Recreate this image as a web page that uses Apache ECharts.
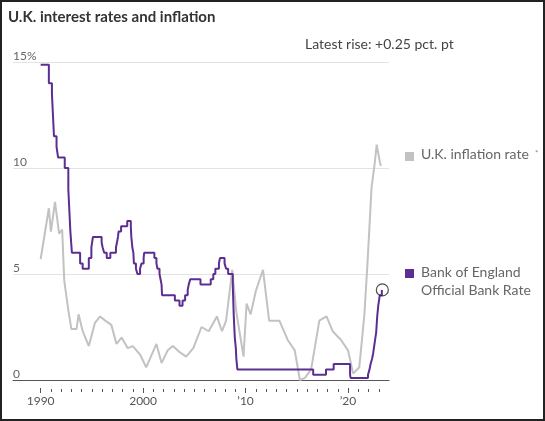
<!DOCTYPE html>
<html>
<head>
<meta charset="utf-8">
<script src="https://cdn.jsdelivr.net/npm/echarts@6/dist/echarts.min.js"></script>
<style>
  html, body { margin: 0; padding: 0; background: #fff; }
  #main { width: 541px; height: 417px; border: 2px solid #222; }
</style>
</head>
<body>
<div id="main"></div>
<script>
// Bank of England rate changes: [decimal year, rate]
const bankRate = [
    [1990.0, 14.875], [1990.8, 14], [1991.1, 13.5], [1991.2, 12.5], [1991.3, 11.5],
    [1991.55, 11], [1991.7, 10.5], [1992.35, 10], [1992.7, 9], [1992.85, 7.5],
    [1992.9, 7], [1993.05, 6], [1993.85, 5.5], [1994.1, 5.25], [1994.7, 5.75],
    [1994.95, 6.25], [1995.1, 6.75], [1995.95, 6.5], [1996.05, 6.25], [1996.2, 6],
    [1996.45, 5.75], [1996.8, 6], [1997.35, 6.25], [1997.45, 6.5], [1997.55, 6.75],
    [1997.6, 7], [1997.85, 7.25], [1998.45, 7.5], [1998.8, 7.25], [1998.85, 6.75],
    [1998.95, 6.25], [1999.05, 6], [1999.1, 5.5], [1999.3, 5.25], [1999.45, 5],
    [1999.7, 5.25], [1999.85, 5.5], [2000.05, 5.75], [2000.1, 6], [2001.1, 5.75],
    [2001.3, 5.5], [2001.4, 5.25], [2001.6, 5], [2001.7, 4.75], [2001.8, 4.5],
    [2001.85, 4], [2003.1, 3.75], [2003.55, 3.5], [2003.85, 3.75], [2004.1, 4],
    [2004.35, 4.25], [2004.45, 4.5], [2004.6, 4.75], [2005.6, 4.5], [2006.6, 4.75],
    [2006.85, 5], [2007.05, 5.25], [2007.4, 5.5], [2007.5, 5.75], [2007.95, 5.5],
    [2008.1, 5.25], [2008.3, 5], [2008.75, 4.5], [2008.85, 3], [2008.95, 2],
    [2009.05, 1.5], [2009.1, 1], [2009.2, 0.5], [2016.6, 0.25], [2017.85, 0.5],
    [2018.6, 0.75], [2020.2, 0.25], [2020.25, 0.1], [2021.95, 0.25], [2022.1, 0.5],
    [2022.2, 0.75], [2022.35, 1], [2022.45, 1.25], [2022.6, 1.75], [2022.75, 2.25],
    [2022.85, 3], [2022.95, 3.5], [2023.1, 4], [2023.3, 4.25]
];

// U.K. inflation rate, %
const inflation = [
    [1990.0, 5.7], [1990.4, 6.9], [1990.8, 8.1], [1991.0, 7.0], [1991.4, 8.4],
    [1991.8, 6.9], [1992.1, 7.1], [1992.3, 4.7], [1992.7, 3.3], [1993.0, 2.4],
    [1993.5, 2.4], [1993.7, 3.1], [1994.1, 2.3], [1994.7, 1.6], [1995.3, 2.7],
    [1995.8, 3.0], [1996.3, 2.8], [1996.9, 2.6], [1997.4, 1.7], [1997.9, 2.0],
    [1998.5, 1.5], [1999.0, 1.6], [1999.7, 1.2], [2000.3, 0.6], [2001.3, 1.7],
    [2001.8, 0.8], [2002.4, 1.4], [2002.9, 1.6], [2003.6, 1.3], [2004.2, 1.1],
    [2004.9, 1.5], [2005.7, 2.5], [2006.4, 2.3], [2007.2, 3.0], [2007.7, 2.3],
    [2008.1, 2.8], [2008.7, 5.2], [2009.1, 3.2], [2009.8, 1.1], [2010.1, 3.6],
    [2010.5, 3.1], [2011.0, 4.2], [2011.7, 5.2], [2012.3, 2.8], [2013.3, 2.8],
    [2014.1, 1.9], [2014.8, 1.4], [2015.3, 0.0], [2015.8, 0.1], [2016.4, 0.5],
    [2017.2, 2.8], [2017.9, 3.0], [2018.5, 2.3], [2019.3, 1.9], [2020.0, 1.4],
    [2020.5, 0.3], [2021.1, 0.6], [2021.6, 3.1], [2021.9, 5.5], [2022.3, 9.1],
    [2022.6, 10.2], [2022.8, 11.1], [2023.1, 10.3], [2023.2, 10.1]
];

const yearTicks = [];
for (let y = 1990; y <= 2023; y++) yearTicks.push(y);
const decadeTicks = [1990, 2000, 2010, 2020];
const decadeLabels = { 1990: '1990', 2000: '2000', 2010: '\u201910', 2020: '\u201920' };
const latest = bankRate[bankRate.length - 1];

const FONT = 'Lato, "Noto Sans", sans-serif';
const chart = echarts.init(document.getElementById('main'));

const baseX = { type: 'value', min: 1987.3, max: 2024, gridIndex: 0 };

chart.setOption({
    animation: false,
    textStyle: { fontFamily: FONT },
    grid: { left: 11, right: 154, top: 60, bottom: 39 },
    xAxis: [
        Object.assign({}, baseX, {
            axisLine: { show: true, lineStyle: { color: '#555', width: 1 } },
            axisTick: { show: false }, axisLabel: { show: false }, splitLine: { show: false }
        }),
        Object.assign({}, baseX, {
            position: 'bottom', offset: 9,
            axisLine: { show: false },
            axisTick: { show: true, customValues: yearTicks, length: 3, lineStyle: { color: '#555' } },
            axisLabel: { show: false }, splitLine: { show: false }
        }),
        Object.assign({}, baseX, {
            position: 'bottom', offset: 8,
            axisLine: { show: false },
            axisTick: { show: true, customValues: decadeTicks, length: 5, lineStyle: { color: '#555' } },
            axisLabel: {
                show: true, customValues: decadeTicks, margin: 7,
                color: '#555', fontSize: 12, fontFamily: FONT,
                formatter: v => decadeLabels[v] || ''
            },
            splitLine: { show: false }
        })
    ],
    yAxis: {
        type: 'value', min: 0, max: 15, interval: 5,
        axisLine: { show: false }, axisTick: { show: false },
        splitLine: { lineStyle: { color: '#e3e3e3' } },
        axisLabel: {
            inside: true, verticalAlign: 'bottom', margin: 0,
            color: '#666', fontSize: 12, fontFamily: FONT,
            formatter: v => v === 15 ? '15%' : String(v)
        }
    },
    series: [
        {
            name: 'U.K. inflation rate',
            type: 'line', data: inflation, symbol: 'none',
            lineStyle: { color: '#c2c2c2', width: 2 }, z: 2
        },
        {
            name: 'Bank of England Official Bank Rate',
            type: 'line', data: bankRate, step: 'end', symbol: 'none',
            lineStyle: { color: '#5c2e91', width: 2 }, z: 3,
            markLine: {
                silent: true, symbol: 'none', label: { show: false },
                lineStyle: { color: '#333', width: 1, type: 'solid' },
                data: [[{ coord: [latest[0] + 0.05, 15.05] }, { coord: [latest[0] + 0.05, latest[1] + 0.3] }]]
            }
        },
        {
            type: 'scatter', data: [[latest[0] + 0.05, latest[1]]],
            symbol: 'circle', symbolSize: 12, z: 4,
            itemStyle: { color: 'rgba(0,0,0,0)', borderColor: '#222', borderWidth: 1.2 }
        }
    ],
    graphic: [
        { type: 'text', left: 6, top: 8, style: { text: 'U.K. interest rates and inflation', font: 'bold 15px ' + FONT, fill: '#333' } },
        { type: 'text', left: 303, top: 35, style: { text: 'Latest rise: +0.25 pct. pt', font: '14px ' + FONT, fill: '#444' } },
        { type: 'rect', shape: { x: 403, y: 150, width: 9, height: 9 }, style: { fill: '#c2c2c2' } },
        { type: 'text', left: 419, top: 145, style: { text: 'U.K. inflation rate', font: '14px ' + FONT, fill: '#666' } },
        { type: 'text', left: 533, top: 147, style: { text: '*', font: '8px ' + FONT, fill: '#888' } },
        { type: 'rect', shape: { x: 403, y: 267, width: 9, height: 9 }, style: { fill: '#5c2e91' } },
        { type: 'text', left: 419, top: 261, style: { text: 'Bank of England\nOfficial Bank Rate', font: '14px ' + FONT, lineHeight: 18, fill: '#666' } }
    ]
});
</script>
</body>
</html>
